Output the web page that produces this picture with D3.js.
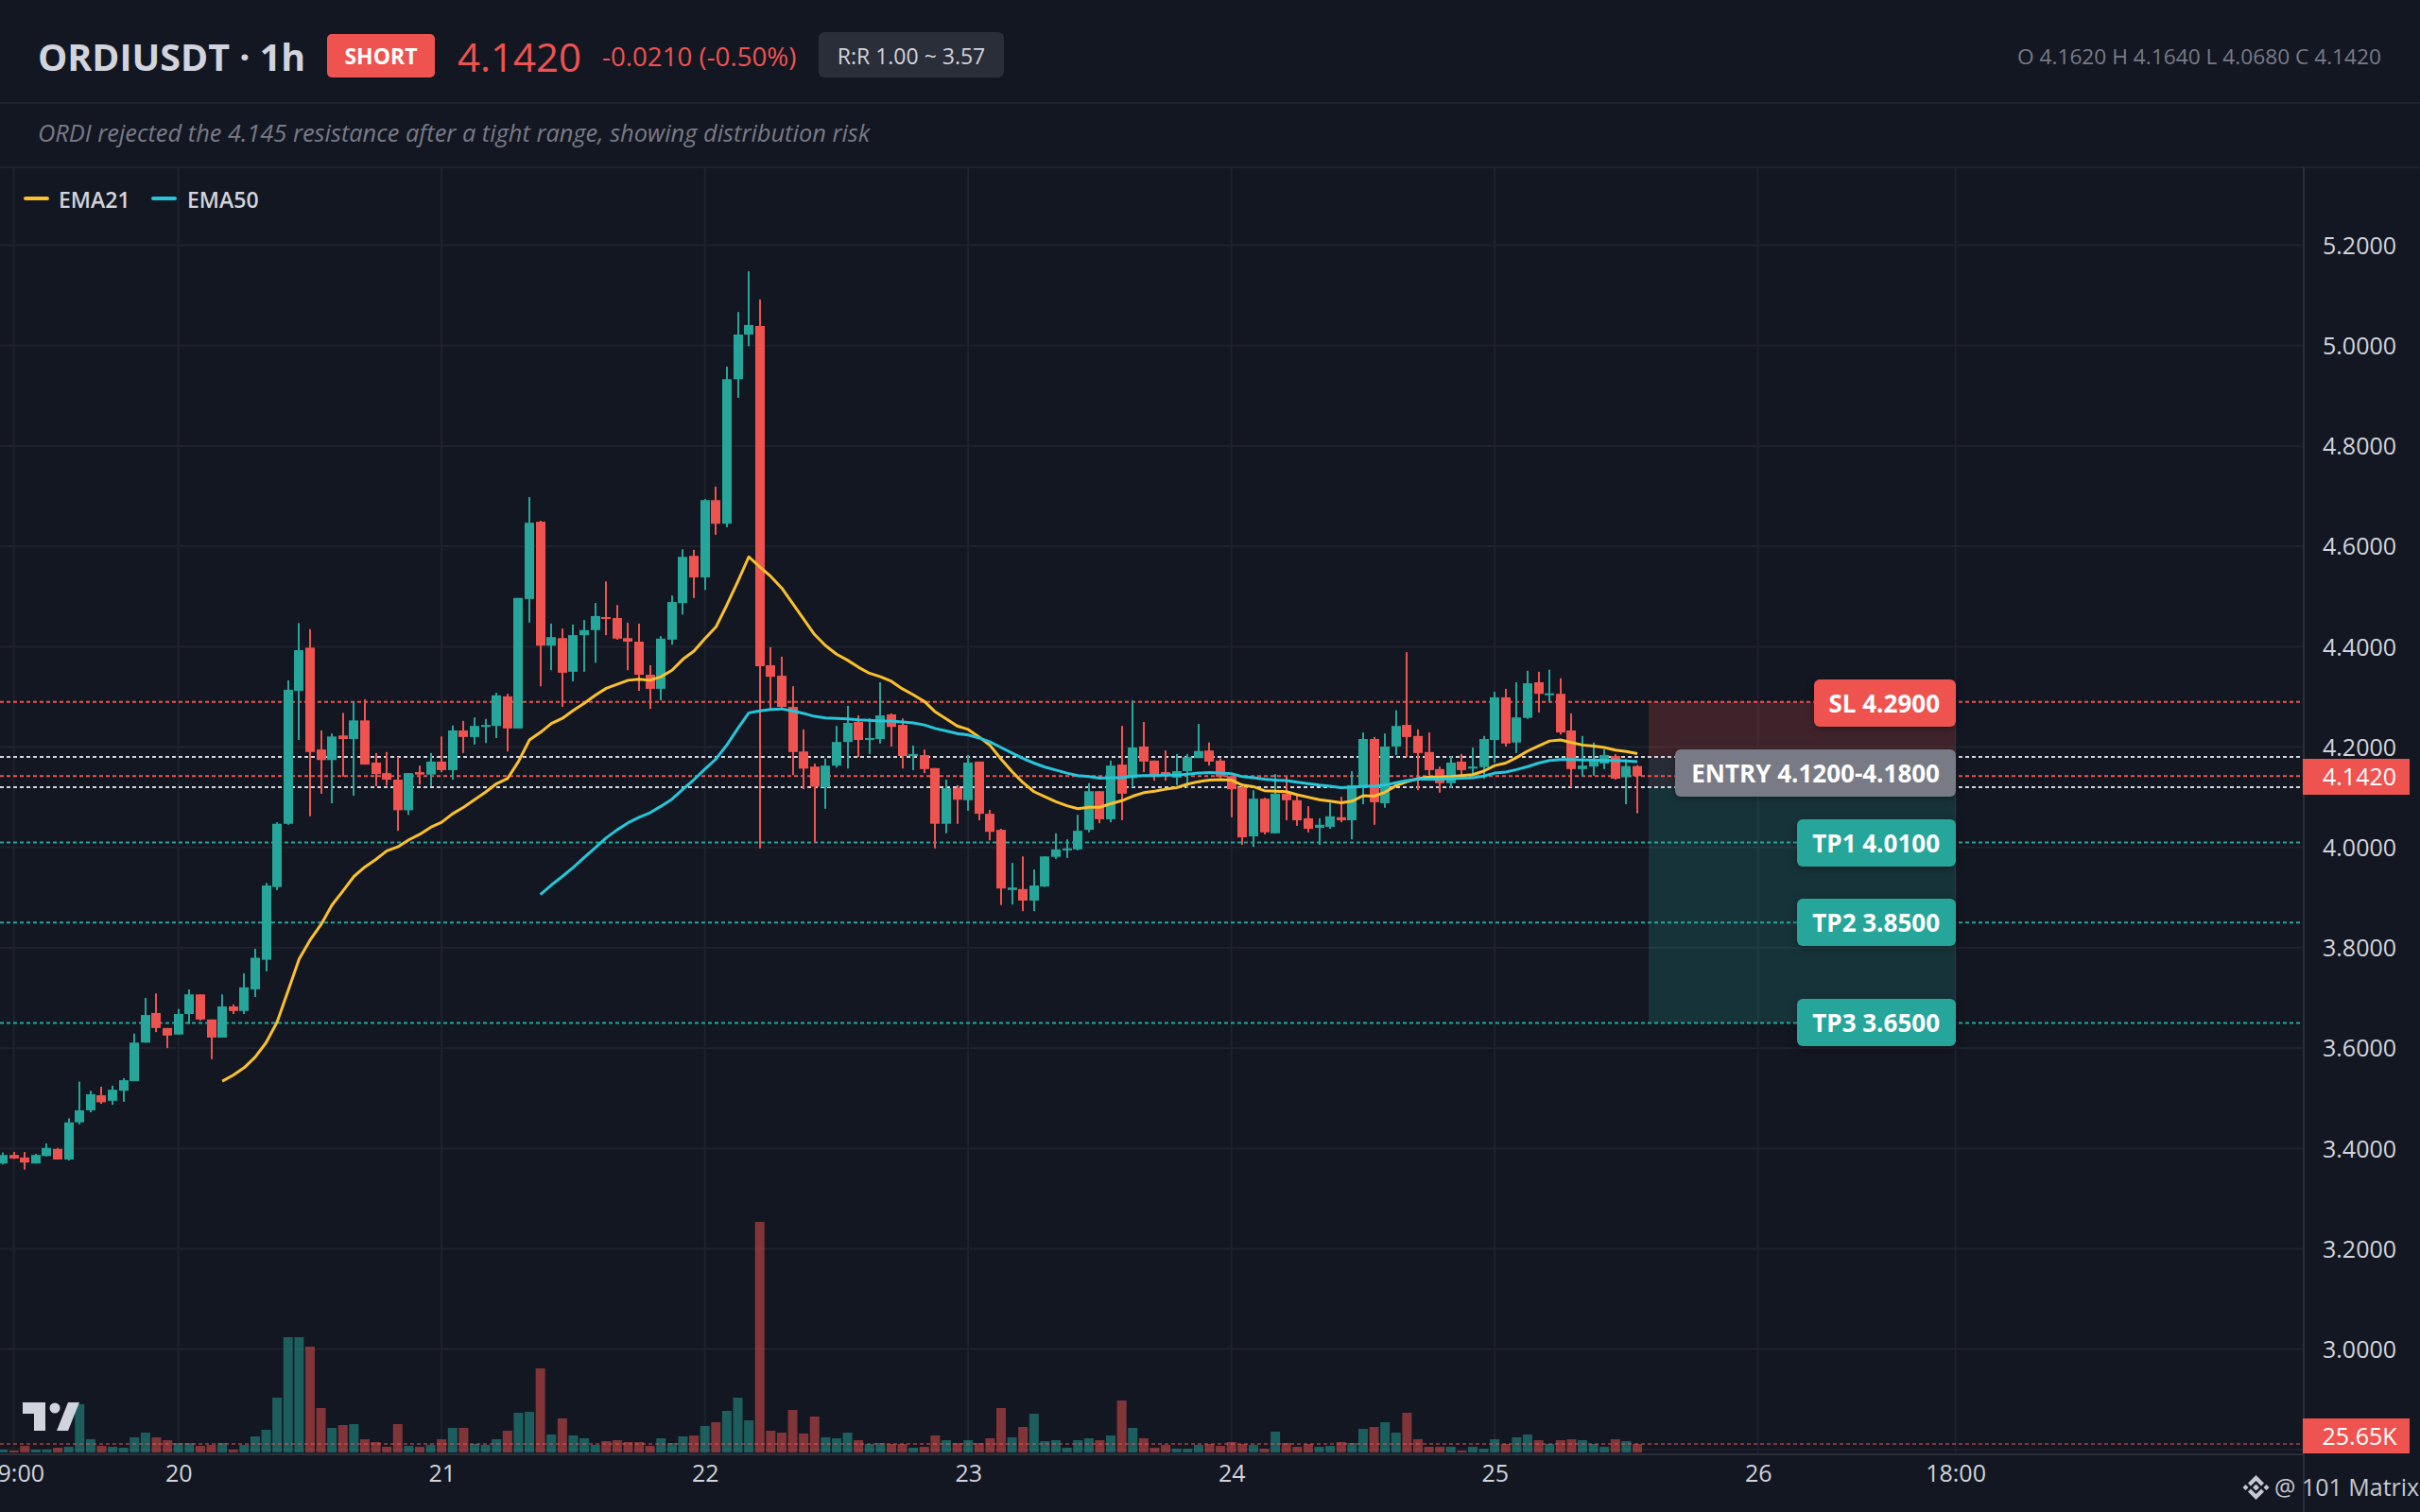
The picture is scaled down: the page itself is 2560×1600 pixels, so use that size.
<!DOCTYPE html>
<html>
<head>
<meta charset="utf-8">
<script src="https://cdnjs.cloudflare.com/ajax/libs/d3/7.8.5/d3.min.js"></script>
<style>
  html, body { margin: 0; padding: 0; background: #131722; }
  svg { display: block; font-family: "Open Sans", "Noto Sans", sans-serif; }
  .domain { display: none; }
</style>
</head>
<body>
<div id="chart"></div>
<script>
const width = 2560;
const height = 1600;

// first candle sits 16 hours before the "20" day mark
const firstHour = -16;

const opens = [
  3.370,3.387,3.382,3.370,3.385,3.399,3.378,3.452,3.476,3.506,3.495,3.515,3.534,3.611,3.670,3.640,
  3.627,3.668,3.707,3.657,3.621,3.683,3.674,3.717,3.776,3.921,4.047,4.312,4.398,4.195,4.174,4.223,4.216,4.253,4.169,4.148,4.135,4.074,4.150,4.145,
  4.171,4.154,4.233,4.220,4.240,4.242,4.301,4.237,4.495,4.649,4.402,4.417,4.350,4.423,4.433,4.459,4.457,4.417,4.410,4.344,4.316,4.414,4.487,4.581,
  4.538,4.692,4.645,4.933,5.022,5.039,4.363,4.342,4.280,4.191,4.161,4.120,4.163,4.210,4.250,4.214,4.216,4.265,4.244,4.182,4.184,4.158,4.047,4.118,
  4.094,4.171,4.067,4.035,3.915,3.917,3.894,3.922,3.981,3.994,3.996,4.035,4.112,4.056,4.165,4.138,4.201,4.173,4.150,4.139,4.152,4.178,4.193,4.173,
  4.142,4.120,4.022,4.097,4.028,4.107,4.094,4.058,4.039,4.041,4.060,4.054,4.119,4.216,4.088,4.201,4.244,4.222,4.190,4.156,4.128,4.171,4.157,4.160,
  4.214,4.299,4.209,4.258,4.329,4.304,4.306,4.233,4.156,4.161,4.167,4.182,4.140,4.162
];
const highs = [
  3.392,3.393,3.393,3.389,3.410,3.401,3.460,3.533,3.515,3.523,3.525,3.540,3.629,3.700,3.709,3.640,
  3.678,3.717,3.707,3.657,3.707,3.687,3.749,3.798,3.929,4.050,4.333,4.447,4.435,4.233,4.227,4.268,4.290,4.295,4.188,4.190,4.180,4.148,4.163,4.188,
  4.221,4.243,4.252,4.259,4.256,4.308,4.306,4.497,4.698,4.651,4.446,4.436,4.444,4.453,4.487,4.530,4.483,4.448,4.446,4.363,4.421,4.502,4.594,4.593,
  4.694,4.719,4.958,5.067,5.148,5.092,4.399,4.380,4.321,4.235,4.167,4.177,4.242,4.282,4.263,4.257,4.329,4.267,4.257,4.203,4.195,4.158,4.135,4.124,
  4.184,4.171,4.075,4.037,3.969,3.982,3.956,3.982,4.028,4.016,4.065,4.128,4.112,4.173,4.242,4.293,4.250,4.173,4.193,4.186,4.186,4.246,4.209,4.177,
  4.142,4.126,4.114,4.099,4.146,4.141,4.104,4.082,4.058,4.089,4.101,4.152,4.229,4.220,4.227,4.273,4.389,4.235,4.229,4.161,4.182,4.186,4.199,4.222,
  4.310,4.316,4.329,4.352,4.350,4.354,4.337,4.267,4.222,4.209,4.195,4.186,4.176,4.164
];
const lows = [
  3.368,3.379,3.358,3.370,3.384,3.378,3.376,3.448,3.472,3.489,3.487,3.493,3.534,3.611,3.632,3.600,
  3.627,3.648,3.655,3.578,3.621,3.668,3.668,3.702,3.753,3.915,4.045,4.214,4.062,4.107,4.088,4.141,4.103,4.165,4.122,4.123,4.033,4.065,4.125,4.122,
  4.150,4.135,4.188,4.205,4.208,4.218,4.191,4.237,4.448,4.321,4.353,4.280,4.331,4.350,4.368,4.423,4.414,4.353,4.312,4.276,4.293,4.404,4.464,4.497,
  4.513,4.623,4.638,4.896,4.999,3.998,4.276,4.276,4.144,4.116,4.009,4.077,4.159,4.157,4.180,4.186,4.207,4.201,4.157,4.154,4.148,3.998,4.028,4.047,
  4.073,4.054,4.014,3.885,3.886,3.873,3.873,3.921,3.977,3.979,3.994,4.030,4.048,4.050,4.054,4.120,4.150,4.133,4.133,4.124,4.118,4.178,4.163,4.138,
  4.060,4.005,4.001,4.026,4.028,4.054,4.043,4.030,4.005,4.037,4.050,4.016,4.086,4.045,4.079,4.184,4.180,4.114,4.144,4.109,4.118,4.144,4.144,4.137,
  4.169,4.201,4.188,4.256,4.269,4.290,4.225,4.120,4.141,4.143,4.156,4.135,4.086,4.068
];
const closes = [
  3.387,3.380,3.372,3.387,3.401,3.378,3.452,3.476,3.508,3.492,3.517,3.536,3.611,3.666,3.640,3.625,
  3.668,3.707,3.657,3.621,3.683,3.674,3.721,3.780,3.924,4.047,4.314,4.393,4.190,4.174,4.221,4.216,4.253,4.165,4.146,4.135,4.074,4.148,4.145,4.171,
  4.154,4.233,4.220,4.242,4.244,4.303,4.237,4.497,4.647,4.402,4.419,4.348,4.423,4.433,4.461,4.455,4.416,4.410,4.344,4.316,4.416,4.489,4.579,4.538,
  4.692,4.645,4.933,5.022,5.041,4.361,4.340,4.280,4.190,4.157,4.121,4.163,4.210,4.248,4.214,4.218,4.263,4.240,4.182,4.186,4.156,4.047,4.118,4.095,
  4.169,4.067,4.031,3.918,3.920,3.894,3.924,3.982,3.996,3.998,4.033,4.112,4.056,4.163,4.107,4.199,4.171,4.141,4.143,4.152,4.180,4.192,4.171,4.141,
  4.116,4.020,4.097,4.030,4.107,4.094,4.054,4.037,4.045,4.062,4.054,4.124,4.216,4.090,4.201,4.242,4.220,4.188,4.154,4.128,4.169,4.154,4.161,4.216,
  4.299,4.207,4.259,4.327,4.306,4.307,4.229,4.156,4.163,4.175,4.184,4.137,4.162,4.142
];
// volume in thousands
const volumes = [
  8.6,5.7,20,8.6,8.6,14.3,17.1,145.4,39.9,20,17.1,14.3,45.6,59.9,45.6,37.1,
  28.5,28.5,20,22.8,28.5,8.6,22.8,48.5,68.4,165.3,347.7,347.7,319.2,134,74.1,82.7,85.5,39.9,31.4,17.1,85.5,20,17.1,22.8,
  39.9,74.1,74.1,25.7,22.8,39.9,65.6,119.7,122.6,253.7,54.2,102.6,51.3,42.8,22.8,34.2,37.1,31.4,31.4,20,42.8,28.5,48.5,51.3,
  79.8,91.2,125.4,165.3,96.9,695.4,65.6,59.9,128.3,57,108.3,45.6,42.8,59.9,37.1,25.7,28.5,25.7,25.7,14.3,17.1,51.3,37.1,28.5,
  37.1,28.5,42.8,134,45.6,77,116.9,34.2,37.1,14.3,37.1,42.8,37.1,51.3,156.8,74.1,42.8,14.3,22.8,11.4,11.4,22.8,25.7,20,
  31.4,25.7,22.8,11.4,62.7,28.5,17.1,25.7,17.1,20,31.4,28.5,71.3,77,91.2,59.9,119.7,39.9,17.1,17.1,17.1,5.7,17.1,11.4,
  39.9,25.7,45.6,54.2,37.1,25.7,37.1,39.9,37.1,25.7,17.1,39.9,34.2,25.65
];

// EMA21 starts at hour 4, EMA50 at hour 33
const ema21Start = 4;
const ema21 = [
  3.534,3.546,3.561,3.582,3.611,3.652,3.714,3.777,3.815,3.846,3.885,3.913,3.942,3.961,3.976,3.993,4.001,4.015,4.026,4.040,
  4.050,4.067,4.080,4.095,4.110,4.127,4.137,4.171,4.214,4.229,4.247,4.257,4.273,4.287,4.303,4.317,4.325,4.333,4.335,4.333,4.340,4.353,4.375,4.391,
  4.416,4.439,4.483,4.530,4.579,4.559,4.540,4.517,4.486,4.455,4.424,4.402,4.385,4.373,4.359,4.347,4.340,4.331,4.316,4.304,4.291,4.270,4.256,4.242,
  4.235,4.220,4.203,4.176,4.151,4.129,4.111,4.101,4.091,4.083,4.077,4.080,4.080,4.087,4.093,4.102,4.109,4.112,4.116,4.119,4.126,4.131,4.134,4.135,
  4.134,4.124,4.121,4.113,4.112,4.111,4.105,4.100,4.095,4.092,4.089,4.092,4.103,4.102,4.110,4.123,4.131,4.137,4.140,4.140,4.141,4.143,4.145,4.152,
  4.163,4.168,4.179,4.192,4.202,4.212,4.214,4.209,4.204,4.202,4.199,4.194,4.191,4.187
];
const ema50Start = 33;
const ema50 = [
  3.906,3.925,3.942,3.960,3.980,3.999,4.019,4.035,4.049,4.060,4.069,4.082,4.096,4.116,4.135,
  4.156,4.176,4.204,4.237,4.268,4.272,4.275,4.276,4.272,4.267,4.261,4.258,4.257,4.256,4.254,4.253,4.252,4.252,4.250,4.248,4.244,4.237,4.232,4.227,
  4.224,4.218,4.210,4.199,4.188,4.177,4.168,4.160,4.154,4.148,4.143,4.141,4.138,4.139,4.139,4.142,4.143,4.143,4.144,4.144,4.146,4.148,4.149,4.148,
  4.147,4.141,4.139,4.136,4.134,4.133,4.130,4.127,4.124,4.122,4.119,4.120,4.122,4.122,4.124,4.129,4.133,4.136,4.136,4.136,4.137,4.138,4.139,4.142,
  4.148,4.150,4.155,4.161,4.168,4.173,4.175,4.175,4.174,4.174,4.173,4.173,4.172,4.171
];

const priceTicks = [5.2,5.0,4.8,4.6,4.4,4.2,4.0,3.8,3.6,3.4,3.2,3.0];
const priceGrid = [...priceTicks, 2.8];
const timeTicks = [-15,0,24,48,72,96,120,144,162];
const timeLabels = ["19:00","20","21","22","23","24","25","26","18:00"];

const lastPrice = 4.1420;
const lastVolume = 25.65;
const stopLoss = 4.29;
const entryHigh = 4.18;
const entryLow = 4.12;
const targets = [4.01, 3.85, 3.65];

const upColor = "#26a69a";
const downColor = "#ef5350";
const gridColor = "#1e222d";
const borderColor = "#2a2e39";
const textColor = "#d1d4dc";
const mutedColor = "#787b86";

const paneRight = 2437;
const paneTop = 177;
const paneBottom = 1538;

// one hour = 11.604px, price scale is linear
const x = d3.scaleLinear().domain([0, 24]).range([188.7, 467.2]);
const y = d3.scaleLinear().domain([5.2, 3.0]).range([259.5, 1427.7]);
const vol = d3.scaleLinear().domain([0, 695.4]).range([1537, 1293]);

const candles = opens.map((o, i) => ({
  hour: firstHour + i, open: o, high: highs[i], low: lows[i], close: closes[i], volume: volumes[i]
}));

const svg = d3.select("#chart").append("svg").attr("width", width).attr("height", height);
svg.append("rect").attr("width", width).attr("height", height).attr("fill", "#131722");

// header separators
svg.selectAll(".sep").data([108, 176]).enter().append("rect")
  .attr("x", 0).attr("y", d => d).attr("width", width).attr("height", 2).attr("fill", gridColor);

// grid
svg.append("g").selectAll("rect").data(priceGrid).enter().append("rect")
  .attr("x", 0).attr("y", d => y(d) - 1).attr("width", paneRight).attr("height", 2).attr("fill", gridColor);
svg.append("g").selectAll("rect").data(timeTicks).enter().append("rect")
  .attr("x", d => x(d) - 1).attr("y", paneTop).attr("width", 2).attr("height", paneBottom - paneTop).attr("fill", gridColor);

// position zones
const boxLeft = 1744;
const boxRight = 2069;
const zones = [
  { from: stopLoss, to: entryHigh, fill: "rgba(239,83,80,0.2)" },
  { from: entryHigh, to: entryLow, fill: "rgba(120,123,134,0.22)" },
  { from: entryLow, to: targets[2], fill: "rgba(38,166,154,0.2)" }
];
svg.append("g").selectAll("rect").data(zones).enter().append("rect")
  .attr("x", boxLeft).attr("width", boxRight - boxLeft)
  .attr("y", d => y(d.from)).attr("height", d => y(d.to) - y(d.from))
  .attr("fill", d => d.fill);

// price lines
const priceLines = [
  { price: stopLoss, color: downColor },
  { price: entryHigh, color: textColor },
  { price: lastPrice, color: downColor },
  { price: entryLow, color: textColor },
  ...targets.map(t => ({ price: t, color: upColor }))
];
svg.append("g").selectAll("line").data(priceLines).enter().append("line")
  .attr("x1", 0).attr("x2", paneRight)
  .attr("y1", d => y(d.price)).attr("y2", d => y(d.price))
  .attr("stroke", d => d.color).attr("stroke-width", 2).attr("stroke-dasharray", "4 3");

// volume bars
svg.append("g").selectAll("rect").data(candles).enter().append("rect")
  .attr("x", d => x(d.hour) - 5)
  .attr("width", 10)
  .attr("y", d => vol(d.volume))
  .attr("height", d => vol(0) - vol(d.volume))
  .attr("fill", d => d.close >= d.open ? upColor : downColor)
  .attr("fill-opacity", 0.5);

// volume last value line
svg.append("line")
  .attr("x1", 0).attr("x2", paneRight)
  .attr("y1", vol(lastVolume)).attr("y2", vol(lastVolume))
  .attr("stroke", downColor).attr("stroke-opacity", 0.5).attr("stroke-width", 2).attr("stroke-dasharray", "4 3");

// candles
const candleG = svg.append("g").selectAll("g").data(candles).enter().append("g")
  .attr("fill", d => d.close >= d.open ? upColor : downColor);
candleG.append("rect")
  .attr("x", d => Math.round(x(d.hour)) - 1)
  .attr("width", 2)
  .attr("y", d => y(d.high))
  .attr("height", d => y(d.low) - y(d.high));
candleG.append("rect")
  .attr("x", d => Math.round(x(d.hour)) - 5)
  .attr("width", 10)
  .attr("y", d => y(Math.max(d.open, d.close)))
  .attr("height", d => Math.max(2, y(Math.min(d.open, d.close)) - y(Math.max(d.open, d.close))));

// EMA lines
const emaLine = start => d3.line().x((d, i) => x(start + i)).y(d => y(d));
svg.append("path").attr("d", emaLine(ema21Start)(ema21))
  .attr("fill", "none").attr("stroke", "#fbc02d").attr("stroke-width", 3).attr("stroke-linejoin", "round");
svg.append("path").attr("d", emaLine(ema50Start)(ema50))
  .attr("fill", "none").attr("stroke", "#26c6da").attr("stroke-width", 3).attr("stroke-linejoin", "round");

// price axis
svg.append("rect").attr("x", paneRight - 1).attr("y", paneTop).attr("width", 2).attr("height", height - paneTop).attr("fill", borderColor);
const priceAxis = d3.axisRight(y).tickValues(priceTicks).tickFormat(d3.format(".4f")).tickSize(0).tickPadding(20);
svg.append("g").attr("transform", `translate(${paneRight},0)`).call(priceAxis)
  .selectAll("text").attr("fill", textColor).attr("font-size", 25).attr("font-family", "Open Sans").attr("dy", "0.35em");

// time axis
svg.append("rect").attr("x", 0).attr("y", paneBottom).attr("width", paneRight).attr("height", 2).attr("fill", borderColor);
const timeAxis = d3.axisBottom(x).tickValues(timeTicks).tickFormat((d, i) => timeLabels[i]).tickSize(0).tickPadding(12);
svg.append("g").attr("transform", `translate(0,${paneBottom})`).call(timeAxis)
  .selectAll("text").attr("fill", textColor).attr("font-size", 25).attr("font-family", "Open Sans");

// trade labels
const tradeLabels = [
  { text: "SL 4.2900", left: 1919, top: 719, color: downColor },
  { text: "ENTRY 4.1200-4.1800", left: 1772, top: 793, color: mutedColor },
  { text: "TP1 4.0100", left: 1901, top: 867, color: upColor },
  { text: "TP2 3.8500", left: 1901, top: 951, color: upColor },
  { text: "TP3 3.6500", left: 1901, top: 1057, color: upColor }
];
const labelG = svg.append("g").selectAll("g").data(tradeLabels).enter().append("g");
labelG.append("rect")
  .attr("x", d => d.left).attr("y", d => d.top)
  .attr("width", d => boxRight - d.left).attr("height", 50).attr("rx", 6)
  .attr("fill", d => d.color)
  .style("filter", "drop-shadow(0 2px 4px rgba(0,0,0,0.35))");
labelG.append("text")
  .attr("x", 2052).attr("y", d => d.top + 35)
  .attr("text-anchor", "end").attr("fill", "#fff").attr("font-size", 26).attr("font-weight", 700)
  .text(d => d.text);

// axis value tags
const tags = [
  { text: "4.1420", top: 803, h: 38, left: 2436 },
  { text: "25.65K", top: 1501, h: 37, left: 2436 }
];
const tagG = svg.append("g").selectAll("g").data(tags).enter().append("g");
tagG.append("rect").attr("x", d => d.left).attr("y", d => d.top).attr("width", 113).attr("height", d => d.h).attr("fill", downColor);
tagG.append("text")
  .attr("x", 2496).attr("y", d => d.top + d.h / 2 + 9)
  .attr("text-anchor", "middle").attr("fill", "#fff").attr("font-size", 25)
  .text(d => d.text);

// header
const headerText = (tx, ty, text, size, fill, weight, style) => svg.append("text")
  .attr("x", tx).attr("y", ty).attr("font-size", size).attr("fill", fill)
  .attr("font-weight", weight || 400).attr("font-style", style || "normal").text(text);

headerText(40, 75, "ORDIUSDT · 1h", 39.4, textColor, 700);
svg.append("rect").attr("x", 346).attr("y", 36).attr("width", 114).attr("height", 46).attr("rx", 5).attr("fill", downColor);
headerText(403, 68, "SHORT", 23, "#fff", 700).attr("text-anchor", "middle");
headerText(484, 76, "4.1420", 42, downColor, 500);
headerText(637, 70, "-0.0210 (-0.50%)", 27.7, downColor, 500);
svg.append("rect").attr("x", 866).attr("y", 34).attr("width", 196).attr("height", 48).attr("rx", 6).attr("fill", borderColor);
headerText(964, 68, "R:R 1.00 ~ 3.57", 23, textColor, 500).attr("text-anchor", "middle");
headerText(2519, 68, "O 4.1620 H 4.1640 L 4.0680 C 4.1420", 22.7, mutedColor).attr("text-anchor", "end");
headerText(40, 150, "ORDI rejected the 4.145 resistance after a tight range, showing distribution risk", 25.4, mutedColor, 400, "italic");

// legend
const legendItems = [
  { name: "EMA21", color: "#fbc02d", swatch: 25, label: 62 },
  { name: "EMA50", color: "#26c6da", swatch: 160, label: 198 }
];
legendItems.forEach(d => {
  svg.append("rect").attr("x", d.swatch).attr("y", 208).attr("width", 27).attr("height", 4).attr("rx", 2).attr("fill", d.color);
  headerText(d.label, 220, d.name, 23, textColor, 600);
});

// TV logo
svg.append("path").attr("fill", textColor)
  .attr("d", "M24 1484H48V1514H36V1496H24Z M72 1484H84L72 1514H60Z");
svg.append("circle").attr("cx", 58).attr("cy", 1490).attr("r", 5.5).attr("fill", textColor);

// attribution
const diamond = (cx, cy, r) => `M${cx} ${cy - r}L${cx + r} ${cy}L${cx} ${cy + r}L${cx - r} ${cy}Z`;
svg.append("path").attr("fill", "#c6c9d0").attr("fill-rule", "evenodd")
  .attr("d", [
    "M2386.5 1561L2395 1569.5L2392 1572.5L2386.5 1567L2381 1572.5L2378 1569.5Z",
    "M2386.5 1587L2378 1578.5L2381 1575.5L2386.5 1581L2392 1575.5L2395 1578.5Z",
    diamond(2386.5, 1574, 3.5), diamond(2375.5, 1574, 3), diamond(2397.5, 1574, 3)
  ].join(""));
headerText(2406, 1583, "@ 101 Matrix", 25, "#c6c9d0");
</script>
</body>
</html>
